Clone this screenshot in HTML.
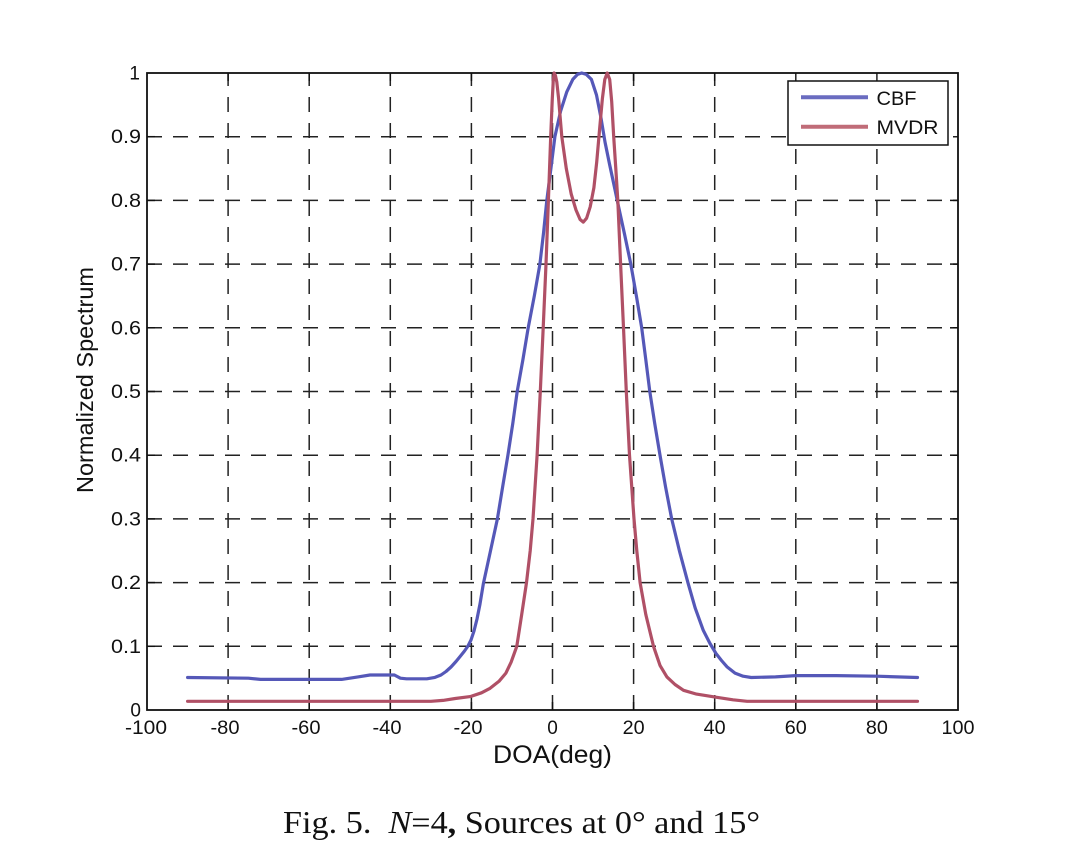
<!DOCTYPE html>
<html>
<head>
<meta charset="utf-8">
<style>
  html, body { margin:0; padding:0; background:#fff; }
  svg { display:block; }
</style>
</head>
<body>
<svg width="1080" height="863" viewBox="0 0 1080 863" xmlns="http://www.w3.org/2000/svg">
  <rect x="0" y="0" width="1080" height="863" fill="#fff"/>

  <!-- grid: horizontal dashed -->
  <g stroke="#222" stroke-width="1.5" stroke-dasharray="15 11" fill="none">
    <line x1="147" y1="646.3" x2="958" y2="646.3"/>
    <line x1="147" y1="582.6" x2="958" y2="582.6"/>
    <line x1="147" y1="518.9" x2="958" y2="518.9"/>
    <line x1="147" y1="455.2" x2="958" y2="455.2"/>
    <line x1="147" y1="391.5" x2="958" y2="391.5"/>
    <line x1="147" y1="327.8" x2="958" y2="327.8"/>
    <line x1="147" y1="264.1" x2="958" y2="264.1"/>
    <line x1="147" y1="200.4" x2="958" y2="200.4"/>
    <line x1="147" y1="136.7" x2="958" y2="136.7"/>
  </g>
  <!-- grid: vertical dashed -->
  <g stroke="#222" stroke-width="1.5" stroke-dasharray="15 11" fill="none">
    <line x1="228.1" y1="710" x2="228.1" y2="73"/>
    <line x1="309.2" y1="710" x2="309.2" y2="73"/>
    <line x1="390.3" y1="710" x2="390.3" y2="73"/>
    <line x1="471.4" y1="710" x2="471.4" y2="73"/>
    <line x1="552.5" y1="710" x2="552.5" y2="73"/>
    <line x1="633.6" y1="710" x2="633.6" y2="73"/>
    <line x1="714.7" y1="710" x2="714.7" y2="73"/>
    <line x1="795.8" y1="710" x2="795.8" y2="73"/>
    <line x1="876.9" y1="710" x2="876.9" y2="73"/>
  </g>

  <!-- ticks (inward) -->
  <g stroke="#111" stroke-width="1.5">
    <line x1="228.1" y1="710" x2="228.1" y2="702"/>
    <line x1="309.2" y1="710" x2="309.2" y2="702"/>
    <line x1="390.3" y1="710" x2="390.3" y2="702"/>
    <line x1="471.4" y1="710" x2="471.4" y2="702"/>
    <line x1="552.5" y1="710" x2="552.5" y2="702"/>
    <line x1="633.6" y1="710" x2="633.6" y2="702"/>
    <line x1="714.7" y1="710" x2="714.7" y2="702"/>
    <line x1="795.8" y1="710" x2="795.8" y2="702"/>
    <line x1="876.9" y1="710" x2="876.9" y2="702"/>
    <line x1="228.1" y1="73" x2="228.1" y2="81"/>
    <line x1="309.2" y1="73" x2="309.2" y2="81"/>
    <line x1="390.3" y1="73" x2="390.3" y2="81"/>
    <line x1="471.4" y1="73" x2="471.4" y2="81"/>
    <line x1="552.5" y1="73" x2="552.5" y2="81"/>
    <line x1="633.6" y1="73" x2="633.6" y2="81"/>
    <line x1="714.7" y1="73" x2="714.7" y2="81"/>
    <line x1="147" y1="646.3" x2="155" y2="646.3"/>
    <line x1="147" y1="582.6" x2="155" y2="582.6"/>
    <line x1="147" y1="518.9" x2="155" y2="518.9"/>
    <line x1="147" y1="455.2" x2="155" y2="455.2"/>
    <line x1="147" y1="391.5" x2="155" y2="391.5"/>
    <line x1="147" y1="327.8" x2="155" y2="327.8"/>
    <line x1="147" y1="264.1" x2="155" y2="264.1"/>
    <line x1="147" y1="200.4" x2="155" y2="200.4"/>
    <line x1="147" y1="136.7" x2="155" y2="136.7"/>
    <line x1="958" y1="646.3" x2="950" y2="646.3"/>
    <line x1="958" y1="582.6" x2="950" y2="582.6"/>
    <line x1="958" y1="518.9" x2="950" y2="518.9"/>
    <line x1="958" y1="455.2" x2="950" y2="455.2"/>
    <line x1="958" y1="391.5" x2="950" y2="391.5"/>
    <line x1="958" y1="327.8" x2="950" y2="327.8"/>
    <line x1="958" y1="264.1" x2="950" y2="264.1"/>
    <line x1="958" y1="200.4" x2="950" y2="200.4"/>
  </g>

  <!-- axes box -->
  <rect x="147" y="73" width="811" height="637" fill="none" stroke="#111" stroke-width="1.8"/>

  <!-- CBF curve -->
  <polyline fill="none" stroke="#5558b8" stroke-width="3.2" stroke-linejoin="round" stroke-linecap="round"
    points="187.6,677.5 248.4,678.2 260.5,679.4 341.6,679.4 357.9,676.9 370.0,675.0 394.4,675.0 400.4,678.2 406.5,678.8 426.8,678.8 434.9,677.4 441,675 446,671.5 451,667 456,661.5 460.5,656 464.5,651 468,646 471,640 474,631 477,619 480,604 483.3,584 490.5,550.8 497.4,518.9 502.6,487.1 507.9,455.2 512.8,423.4 517.2,391.5 522.9,359.7 528.2,327.8 534.3,296.0 539.9,264.1 543.6,232.3 546.8,200.4 550.9,168.6 554.9,136.7 560.6,111.2 566.7,92.1 572.8,79.4 577.6,74.3 581.7,73.0 586.2,74.3 591.4,79.4 596.5,95 601,118 605,142 609.5,164 614,185 618.6,206.8 624.5,234 630.8,264.1 636.4,296.0 641.7,327.8 645.8,359.7 649.8,391.5 654.7,423.4 660.0,455.2 665.6,487.1 671.7,518.9 679.4,550.8 687.9,582.6 695.2,608.1 703.3,630.4 710,643.5 716,653.5 721.5,660.5 726.9,666.7 735.0,673.1 743.1,676.2 751.2,677.5 775.5,676.9 795.8,675.6 836.4,675.6 876.9,676.2 917.5,677.5"/>

  <!-- MVDR curve -->
  <polyline fill="none" stroke="#b05066" stroke-width="3.2" stroke-linejoin="round" stroke-linecap="round"
    points="187.6,701.3 430.9,701.3 443.0,700.4 455.2,698.5 470.2,696.6 481.5,692.8 490.1,688.3 499.0,681.3 505.9,673.1 511.1,662.2 516.8,646.3 521.7,614.5 526.5,582.6 530.2,550.8 533.0,518.9 537.1,455.2 540.3,391.5 543.2,327.8 546.0,264.1 548.4,200.4 550.7,136.7 552.3,98.5 553.3,80 554.1,73.0 555.4,75.5 556.8,82 558.6,98.5 561.8,136.7 566.3,168.6 571.2,194.0 576.0,210.0 580.1,219.5 583.3,222.1 586.6,218.2 590.2,206.8 593.9,187.7 596.7,162.2 599.5,130.3 602.4,98.5 604.8,79.4 607.2,73.0 609.7,79.4 611.7,101.7 613.7,136.7 615.8,168.6 617.8,200.4 620.6,264.1 623.5,327.8 626.3,391.5 629.5,455.2 634.0,518.9 636.8,550.8 640.1,582.6 645.8,614.5 653.5,646.3 660.0,665.4 666.9,676.9 675.0,684.5 683.5,690.3 696.5,694.1 716.7,697.3 733.0,699.8 747.1,701.3 917.5,701.3"/>

  <!-- y tick labels -->
  <g font-family="'Liberation Sans', Arial, sans-serif" font-size="19" fill="#111" text-anchor="end">
    <text x="141" y="716.5">0</text>
    <text x="141" y="652.8" textLength="30" lengthAdjust="spacingAndGlyphs">0.1</text>
    <text x="141" y="589.1" textLength="30" lengthAdjust="spacingAndGlyphs">0.2</text>
    <text x="141" y="525.4" textLength="30" lengthAdjust="spacingAndGlyphs">0.3</text>
    <text x="141" y="461.7" textLength="30" lengthAdjust="spacingAndGlyphs">0.4</text>
    <text x="141" y="398.0" textLength="30" lengthAdjust="spacingAndGlyphs">0.5</text>
    <text x="141" y="334.3" textLength="30" lengthAdjust="spacingAndGlyphs">0.6</text>
    <text x="141" y="270.6" textLength="30" lengthAdjust="spacingAndGlyphs">0.7</text>
    <text x="141" y="206.9" textLength="30" lengthAdjust="spacingAndGlyphs">0.8</text>
    <text x="141" y="143.2" textLength="30" lengthAdjust="spacingAndGlyphs">0.9</text>
    <text x="140" y="79.5">1</text>
  </g>

  <!-- x tick labels -->
  <g font-family="'Liberation Sans', Arial, sans-serif" font-size="19" fill="#111" text-anchor="middle">
    <text x="146" y="734" textLength="42" lengthAdjust="spacingAndGlyphs">-100</text>
    <text x="225" y="734" textLength="29" lengthAdjust="spacingAndGlyphs">-80</text>
    <text x="306" y="734" textLength="29" lengthAdjust="spacingAndGlyphs">-60</text>
    <text x="387" y="734" textLength="29" lengthAdjust="spacingAndGlyphs">-40</text>
    <text x="468" y="734" textLength="29" lengthAdjust="spacingAndGlyphs">-20</text>
    <text x="552.5" y="734">0</text>
    <text x="633.6" y="734" textLength="22" lengthAdjust="spacingAndGlyphs">20</text>
    <text x="714.7" y="734" textLength="22" lengthAdjust="spacingAndGlyphs">40</text>
    <text x="795.8" y="734" textLength="22" lengthAdjust="spacingAndGlyphs">60</text>
    <text x="876.9" y="734" textLength="22" lengthAdjust="spacingAndGlyphs">80</text>
    <text x="958" y="734" textLength="33" lengthAdjust="spacingAndGlyphs">100</text>
  </g>

  <!-- axis labels -->
  <text x="552.5" y="763" font-family="'Liberation Sans', Arial, sans-serif" font-size="25" fill="#111" text-anchor="middle" textLength="119" lengthAdjust="spacingAndGlyphs">DOA(deg)</text>
  <text transform="translate(93,380) rotate(-90)" x="0" y="0" font-family="'Liberation Sans', Arial, sans-serif" font-size="23.5" fill="#111" text-anchor="middle" textLength="226" lengthAdjust="spacingAndGlyphs">Normalized Spectrum</text>

  <!-- legend -->
  <rect x="788" y="81" width="160" height="64" fill="#fff" stroke="#111" stroke-width="1.5"/>
  <line x1="801" y1="97.3" x2="868" y2="97.3" stroke="#6a6cc0" stroke-width="4"/>
  <line x1="801" y1="126.7" x2="868" y2="126.7" stroke="#c06c78" stroke-width="4"/>
  <g font-family="'Liberation Sans', Arial, sans-serif" font-size="19" fill="#111">
    <text x="876.5" y="105" textLength="40" lengthAdjust="spacingAndGlyphs">CBF</text>
    <text x="876.5" y="134" textLength="62" lengthAdjust="spacingAndGlyphs">MVDR</text>
  </g>

  <!-- caption -->
  <text x="283" y="833" font-family="'Liberation Serif', 'Times New Roman', serif" font-size="32" fill="#111" textLength="477" lengthAdjust="spacingAndGlyphs">Fig. 5.&#160; <tspan font-style="italic">N</tspan>=4<tspan font-weight="bold">,</tspan> Sources at 0° and 15°</text>
</svg>
</body>
</html>
